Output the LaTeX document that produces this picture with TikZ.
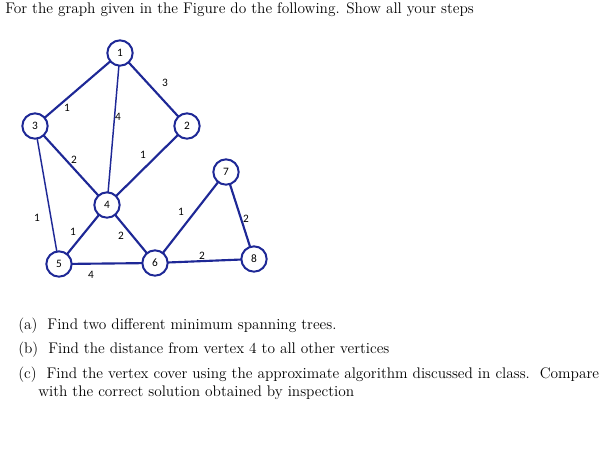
\documentclass[tikz,border=0pt]{standalone}
\usepackage{fontspec}
\newfontfamily\carl{Carlito}
\definecolor{gblue}{RGB}{30,40,150}
\begin{document}
\begin{tikzpicture}[x=0.75pt,y=-0.75pt,
  vtx/.style={circle,draw=gblue,line width=1.5pt,fill=white,minimum size=19pt,inner sep=0pt,font=\carl\fontsize{8.5}{9}\selectfont},
  edg/.style={draw=gblue,line width=1.6pt},
  wt/.style={font=\carl\fontsize{8.5}{9}\selectfont,inner sep=0pt},
  txt/.style={anchor=west,inner sep=0pt,font=\fontsize{11.5}{13}\selectfont}]
\useasboundingbox (0,0) rectangle (605,455);
\coordinate (n1) at (120,53);
\coordinate (n2) at (187,126);
\coordinate (n3) at (35,126);
\coordinate (n4) at (107,205);
\coordinate (n5) at (59,264);
\coordinate (n6) at (155,263);
\coordinate (n7) at (226,172);
\coordinate (n8) at (254,259);
\draw[edg] (n1)--(n3) (n1)--(n2) (n3)--(n4) (n2)--(n4) (n4)--(n5) (n4)--(n6) (n5)--(n6) (n6)--(n7) (n7)--(n8) (n6)--(n8);
\draw[edg,line width=1.1pt] (n1)--(n4) (n3)--(n5);
\foreach \n in {1,...,8} \node[vtx] (v\n) at (n\n) {\n};
\node[wt] (w13) at (67,108) {1};
\node[wt] (w14) at (118,117) {4};
\node[wt] (w12) at (165,83) {3};
\node[wt] (w34) at (74,160) {2};
\node[wt] (w24) at (143,155) {1};
\node[wt] (w35) at (37,218) {1};
\node[wt] (w45) at (73,232) {1};
\node[wt] (w46) at (121,236) {2};
\node[wt] (w67) at (181,212) {1};
\node[wt] (w78) at (246,219) {2};
\node[wt] (w68) at (202,256) {2};
\node[wt] (w56) at (91,275) {4};
\node[txt] (hd) at (5,10) {For the graph given in the Figure do the following. Show all your steps};
\node[txt] (qa) at (18,326) {(a)\ \ Find two different minimum spanning trees.};
\node[txt] (qb) at (18,350) {(b)\ \ Find the distance from vertex 4 to all other vertices};
\node[txt] (qc) at (18,375) {(c)\ \ Find the vertex cover using the approximate algorithm discussed in class.\ \ Compare};
\node[txt] (qc2) at (38,393) {with the correct solution obtained by inspection};
\end{tikzpicture}
\end{document}
